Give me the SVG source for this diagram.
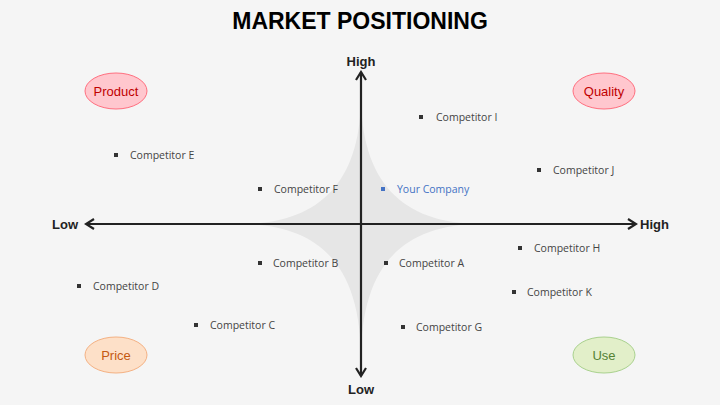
<svg xmlns="http://www.w3.org/2000/svg" width="720" height="405" viewBox="0 0 720 405">
<style>
.t{font-family:"Liberation Sans",Arial,sans-serif}
.c{font-family:"Open Sans","Noto Sans",sans-serif;font-size:10.5px;fill:#444}
.ax{font-family:"Liberation Sans",Arial,sans-serif;font-size:13px;font-weight:bold;fill:#222}
.lbl{font-family:"Liberation Sans",Arial,sans-serif;font-size:13px;text-anchor:middle}
.ln{stroke:#222;stroke-width:2.2;fill:none}
</style>
<defs>
<marker id="ar" viewBox="0 0 12 12" refX="10" refY="6" markerWidth="12" markerHeight="12" orient="auto-start-reverse" markerUnits="userSpaceOnUse">
<path d="M2,1 L10,6 L2,11" fill="none" stroke="#222" stroke-width="2.2"/>
</marker>
</defs>
<rect width="720" height="405" fill="#f5f5f5"/>
<text x="360" y="29" text-anchor="middle" class="t" font-size="23" font-weight="bold" fill="#000">MARKET POSITIONING</text>
<path d="M361,95 C361,180 400,224 482,224 C400,224 361,268 361,360 C361,268 322,224 240,224 C322,224 361,180 361,95 Z" fill="#e6e6e6"/>
<g id="connectors">
<line x1="361" y1="72" x2="361" y2="376" class="ln" marker-start="url(#ar)" marker-end="url(#ar)"/>
<line x1="86" y1="224" x2="636" y2="224" class="ln" marker-start="url(#ar)" marker-end="url(#ar)"/>
</g>
<text x="361" y="66" text-anchor="middle" class="ax">High</text>
<text x="361" y="394" text-anchor="middle" class="ax">Low</text>
<text x="52" y="229" class="ax">Low</text>
<text x="640" y="229" class="ax">High</text>
<g id="product"><ellipse cx="116" cy="91" rx="31" ry="18" fill="#ffc7ce" stroke="#ff6f7f"/><text x="116" y="96" class="lbl" fill="#c00000">Product</text></g>
<g id="quality"><ellipse cx="604" cy="91" rx="31" ry="18" fill="#ffc7ce" stroke="#ff6f7f"/><text x="604" y="96" class="lbl" fill="#c00000">Quality</text></g>
<g id="price"><ellipse cx="116" cy="355" rx="31" ry="18" fill="#fde0c8" stroke="#f4b183"/><text x="116" y="360" class="lbl" fill="#c55a11">Price</text></g>
<g id="use"><ellipse cx="604" cy="355" rx="31" ry="18" fill="#e2efc9" stroke="#a9d18e"/><text x="604" y="360" class="lbl" fill="#548235">Use</text></g>
<g fill="#333">
<g id="cI"><rect x="419" y="115" width="4" height="4"/><text x="436" y="121" class="c">Competitor I</text></g>
<g id="cE"><rect x="114" y="153" width="4" height="4"/><text x="130" y="159" class="c">Competitor E</text></g>
<g id="cJ"><rect x="537" y="168" width="4" height="4"/><text x="553" y="174" class="c">Competitor J</text></g>
<g id="cF"><rect x="258" y="187" width="4" height="4"/><text x="274" y="193" class="c">Competitor F</text></g>
<g id="you"><rect x="381" y="187" width="4" height="4" fill="#4472c4"/><text x="397" y="193" class="c" style="fill:#4472c4">Your Company</text></g>
<g id="cH"><rect x="518" y="246" width="4" height="4"/><text x="534" y="252" class="c">Competitor H</text></g>
<g id="cB"><rect x="258" y="261" width="4" height="4"/><text x="273" y="267" class="c">Competitor B</text></g>
<g id="cA"><rect x="384" y="261" width="4" height="4"/><text x="399" y="267" class="c">Competitor A</text></g>
<g id="cD"><rect x="77" y="284" width="4" height="4"/><text x="93" y="290" class="c">Competitor D</text></g>
<g id="cK"><rect x="512" y="290" width="4" height="4"/><text x="527" y="296" class="c">Competitor K</text></g>
<g id="cC"><rect x="194" y="323" width="4" height="4"/><text x="210" y="329" class="c">Competitor C</text></g>
<g id="cG"><rect x="401" y="325" width="4" height="4"/><text x="416" y="331" class="c">Competitor G</text></g>
</g>
</svg>
